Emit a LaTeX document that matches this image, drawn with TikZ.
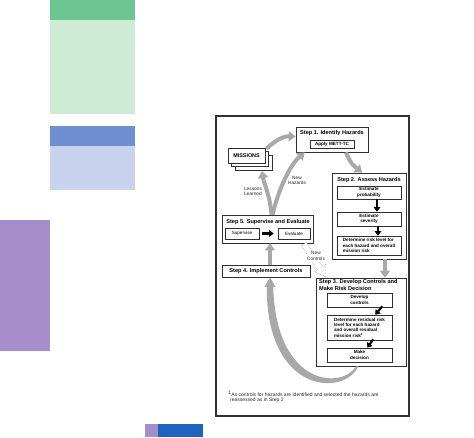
\documentclass[tikz,border=0pt]{standalone}
\usepackage{fontspec}
\setmainfont{Liberation Sans}
\usetikzlibrary{arrows.meta,calc}
\definecolor{greenhead}{HTML}{6BC78F}
\definecolor{greenbody}{HTML}{CDEBD5}
\definecolor{bluehead}{HTML}{6E8FD1}
\definecolor{bluebody}{HTML}{C9D3EE}
\definecolor{purplebar}{HTML}{A68DCB}
\definecolor{bluebar}{HTML}{1E63BE}
\definecolor{boxline}{HTML}{303030}
\definecolor{arrgray}{HTML}{A8A8A8}
\begin{document}
\begin{tikzpicture}[x=1pt,y=-1pt,
  outerbox/.style={draw=boxline, line width=0.7pt, fill=white, inner sep=0pt},
  ttl/.style={font=\fontsize{5.6}{6.6}\selectfont\bfseries, inner sep=0pt},
  innerbox/.style={draw=boxline, line width=0.6pt, fill=white, inner sep=1pt, font=\fontsize{4.6}{5.4}\selectfont\bfseries, align=center},
  lbl/.style={font=\fontsize{4.8}{5.4}\selectfont, align=center, inner sep=0pt, text=black!85},
  garrow/.style={line width=4pt, draw=arrgray, -{Triangle[width=10pt,length=7pt]}},
  barrow/.style={line width=2.2pt, draw=black, -{Triangle[width=6.5pt,length=4.5pt]}}]
\useasboundingbox (0,0) rectangle (474,437);
% side decorations
\fill[greenbody] (50,20) rectangle (135,114);
\fill[greenhead] (50,0) rectangle (135,20);
\fill[bluebody] (50,146) rectangle (135,190);
\fill[bluehead] (50,126) rectangle (135,146);
\fill[purplebar] (0,220) rectangle (50,351);
\fill[purplebar] (145,424) rectangle (158,437);
\fill[bluebar] (158,424) rectangle (203,437);
% frame
\draw[draw=boxline, line width=1.1pt] (216,116) rectangle (409,416);

% Step 1
\node[outerbox, minimum width=72pt, minimum height=25pt] (s1) at (332,139.5) {};
\node[ttl] (s1t) at (332,133) {Step 1. Identify Hazards};
\node[innerbox, minimum width=44pt, minimum height=8pt, inner sep=0pt] (apply) at (332,144) {Apply METT-TC};

% Missions stack
\node[outerbox, minimum width=37pt, minimum height=15pt] (mis3) at (253.5,162.5) {};
\node[outerbox, minimum width=37pt, minimum height=15pt] (mis2) at (250,159) {};
\node[outerbox, minimum width=37pt, minimum height=15pt, font=\fontsize{5.4}{6}\selectfont\bfseries] (mis) at (246.5,155.5) {MISSIONS};

% Step 2
\node[outerbox, minimum width=74pt, minimum height=86pt] (s2) at (369,216) {};
\node[ttl] (s2t) at (369,180) {Step 2. Assess Hazards};
\node[innerbox, minimum width=64pt, minimum height=13pt] (prob) at (369,192.5) {Estimate\\probability};
\node[innerbox, minimum width=64pt, minimum height=14pt] (sev) at (369,219) {Estimate\\severity};
\node[innerbox, minimum width=64pt, minimum height=19pt, align=left] (det) at (369,245.5) {Determine risk level for\\each hazard and overall\\mission risk};
\draw[barrow] ($(prob.south)+(8,0)$) -- ($(sev.north)+(8,0)$);
\draw[barrow] ($(sev.south)+(9,0)$) -- ($(det.north)+(9,0)$);

% Step 3
\node[outerbox, minimum width=90pt, minimum height=88pt] (s3) at (361,322) {};
\node[ttl, anchor=north west, align=left] (s3t) at (319,279.5) {Step 3. Develop Controls and\\Make Risk Decision};
\node[innerbox, minimum width=65pt, minimum height=14pt] (dev) at (359.5,300) {Develop\\controls};
\node[innerbox, minimum width=65pt, minimum height=25pt, align=left] (res) at (359.5,327.5) {Determine residual risk\\level for each hazard\\and overall residual\\mission risk\textsuperscript{1}};
\node[innerbox, minimum width=65pt, minimum height=14pt] (dec) at (359.5,355) {Make\\decision};
\draw[barrow] ($(dev.south east)+(-10,-1)$) -- ($(res.north east)+(-17,0)$);
\draw[barrow] ($(res.south east)+(-19,-1)$) -- ($(dec.north east)+(-25,0)$);

% Step 5
\node[outerbox, minimum width=91pt, minimum height=28pt] (s5) at (267.5,229) {};
\node[ttl] (s5t) at (268,222) {Step 5. Supervise and Evaluate};
\node[innerbox, minimum width=34pt, minimum height=11pt, font=\fontsize{4.6}{5.4}\selectfont] (sup) at (242,233.5) {Supervise};
\node[innerbox, minimum width=32pt, minimum height=11pt, font=\fontsize{4.6}{5.4}\selectfont] (eva) at (294,233.5) {Evaluate};
\draw[barrow, shorten <=3pt, shorten >=4pt] (sup.east) -- (eva.west);

% Step 4
\node[outerbox, minimum width=88pt, minimum height=12pt, font=\fontsize{5.6}{6.6}\selectfont\bfseries] (s4) at (266,271) {Step 4. Implement Controls};

% gray arrows
\draw[garrow] ($(s4.north)+(4,0)$) -- ($(s5.south)+(2.5,0)$);
\draw[garrow] ($(s5.north)+(4,0)$) .. controls (270,195) and (264,184) .. (262,171);
\draw[garrow] ($(s5.north)+(5,0)$) .. controls (279,188) and (290,165) .. ($(s1.south west)+(9,0)$);
\draw[garrow] ($(mis.north east)+(1,1)$) .. controls (275,141) and (283,136) .. ($(s1.west)+(0,-3)$);
\draw[garrow] ($(s1.south)+(14,0)$) .. controls (350,163) and (354,166) .. ($(s2.north)+(-7,0)$);
\draw[garrow] ($(s2.south)+(16,0)$) -- ($(s3.north)+(24,0)$);

% big curved return arrow (Step 3 -> Step 4)
\coordinate (ra) at ($(s3.south)+(-4,0)$);
\coordinate (rb) at ($(s4.south)+(4,9)$);
\fill[arrgray] ($(ra)+(1,0)$) .. controls (346,396) and (266,396) .. ($(rb)+(-3.2,0)$)
   -- ($(rb)+(3.2,0)$) .. controls (276,388) and (343,389) .. ($(ra)+(-1,0)$) -- cycle;
\fill[arrgray] ($(rb)+(-5.5,0.5)$) -- (s4.south -| rb) -- ($(rb)+(5.5,0.5)$) -- cycle;

% New Controls dotted arrow (Step 5 -> Step 3)
\draw[densely dotted, draw=black!55, line width=0.5pt, fill=white]
  (301.5,245.6) -- (317.4,269.8) -- (314.5,271.8) -- (325,276.5) -- (325.3,264.6) -- (322.4,266.6) -- (306.5,242.4) -- cycle;

% labels
\node[lbl] (ll) at (253,191.5) {Lessons\\Learned};
\node[lbl] (nh) at (297,180.5) {New\\Hazards};
\node[lbl, fill=white, inner sep=0.5pt] (nc) at (316,256) {New\\Controls};

% footnote
\node[anchor=north west, font=\fontsize{5}{5.8}\selectfont, align=left, inner sep=0pt, text=black!85] (fn) at (228,390.5) {\textsuperscript{1}As controls for hazards are identified and selected the hazards are\\\hspace{2pt}reassessed as in Step 2};
\end{tikzpicture}
\end{document}
